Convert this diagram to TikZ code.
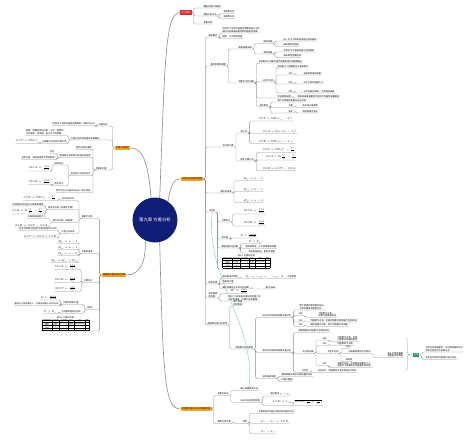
\RequirePackage{fix-cm}
\documentclass[tikz,border=0pt]{standalone}
\usepackage{amsmath}
\usepackage{fontspec}
\setmainfont{Noto Sans CJK SC}
\usetikzlibrary{arrows.meta,decorations.pathreplacing}

\definecolor{navy}{RGB}{16,30,120}
\definecolor{linkgray}{RGB}{140,140,140}
\definecolor{orangeA}{RGB}{246,162,36}
\definecolor{redA}{RGB}{222,45,45}
\definecolor{greenA}{RGB}{28,150,115}
\definecolor{tealA}{RGB}{120,200,185}

\newcommand{\sz}{\fontsize{2.2}{2.7}\selectfont}
\newcommand{\fz}{\fontsize{2.7}{3.2}\selectfont}
\newcommand{\rlink}[2]{\draw[link] (#1) -- ++(2pt,0) |- (#2.south west) -- (#2.south east);}
\newcommand{\llink}[2]{\draw[link] (#1) -- ++(-2pt,0) |- (#2.south east) -- (#2.south west);}
\newcommand{\anovatab}{{\setlength{\tabcolsep}{0.6pt}\setlength{\arrayrulewidth}{0.15pt}\renewcommand{\arraystretch}{0.85}%
\begin{tabular}{|c|c|c|c|c|c|}
\multicolumn{6}{c}{表9-1\ 方差分析表}\\\hline
误差来源&平方和&自由度&均方&F值&P值\\\hline
组间&SSA&$k-1$&MSA&MSA/MSE&\\\hline
组内&SSE&$n-k$&MSE&&\\\hline
总和&SST&$n-1$&&&\\\hline
\end{tabular}}}

\begin{document}
\begin{tikzpicture}[x=1pt,y=-1pt,
  link/.style={draw=linkgray,line width=0.3pt,rounded corners=1.5pt},
  branch/.style={draw=linkgray,line width=0.6pt},
  rt/.style={anchor=south west,inner sep=0.3pt,font=\sz,align=left},
  lt/.style={anchor=south east,inner sep=0.3pt,font=\sz,align=left},
  fm/.style={font=\fz}]
\tikzset{obox/.style={fill=orangeA,inner xsep=1.2pt,inner ysep=1.3pt,font=\sz},
  tag/.style={text=white,inner xsep=1.2pt,inner ysep=1.3pt,font=\sz},
  rel/.style={draw=tealA,line width=0.35pt,-{Stealth[length=1.6pt,width=1.4pt]}},
  summ/.style={draw=greenA!70,line width=0.35pt}}
\fill[white] (0,0) rectangle (474,445);
\useasboundingbox (0,0) rectangle (474,445);

\node[circle,fill=navy,minimum size=45pt,inner sep=0pt,text=white,font=\fontsize{4.4}{5}\selectfont] (core) at (155,220) {第九章 方差分析};

\node[tag,fill=redA] (goal) at (186,12.5) {学习目标};
\node[rt] (g1) at (203,8) {理解方差分析概念};
\node[rt] (g2) at (203,16) {掌握分析方法};
\node[rt] (g2a) at (223,13.5) {单因素分析};
\node[rt] (g2b) at (223,18.5) {双因素分析};
\node[rt] (g3) at (203,24) {多重比较};

\node[obox] (basic) at (192,179) {方差分析的基本原理};
\node[rt] (r1) at (208,37) {基本概念};
\node[rt] (r1a) at (222,33) {检验多个总体均值是否相等的统计方法\\通过分析数据误差判断均值是否相等};
\node[rt] (r1b) at (222,38.5) {因素、水平和观测值};
\node[rt] (r2) at (210,66) {基本思想和原理};
\node[rt] (r2a) at (238,49) {两类误差来源};
\node[rt] (r2a1) at (263,43.5) {随机误差};
\node[rt] (r2a1a) at (283,41) {同一水平下样本观测值之间的差异};
\node[rt] (r2a1b) at (283,46.5) {抽样随机性造成};
\node[rt] (r2a2) at (263,54) {系统误差};
\node[rt] (r2a2a) at (283,52) {不同水平下各观测值之间的差异};
\node[rt] (r2a2b) at (283,57.5) {由系统性因素造成};
\node[rt] (r2b) at (238,83) {误差平方和分解};
\node[rt] (r2b1) at (258,63) {总误差可以分解为组间误差和组内误差两部分};
\node[rt] (r2b2) at (262,82) {三种平方和};
\node[rt] (r2b2a) at (277,68) {各误差大小用离差平方和来表示};
\node[rt] (r2b2b) at (288,75) {SST};
\node[rt] (r2b2c) at (303,75) {全部观测值的误差};
\node[rt] (r2b2d) at (288,84) {SSA};
\node[rt] (r2b2e) at (303,84) {水平之间的误差大小};
\node[rt] (r2b2f) at (288,93) {SSE};
\node[rt] (r2b2g) at (303,93) {水平内部的误差，只含随机误差};
\node[rt] (r2b3) at (277,98) {比较两类误差};
\node[rt] (r2b3a) at (297,98) {若系统误差显著则不同水平均值有显著差异};
\node[rt] (r2b4) at (259,107) {基本假定};
\node[rt] (r2b4a) at (277,102) {每个总体都应该服从正态分布};
\node[rt] (r2b4b) at (288,107.5) {方差};
\node[rt] (r2b4c) at (302,107.5) {各总体方差相同};
\node[rt] (r2b4d) at (288,113) {独立};
\node[rt] (r2b4e) at (302,113) {观测值相互独立};
\node[rt] (r3) at (222,147) {平方和计算};
\node[rt] (r3a) at (240,133) {定义式};
\node[rt,fm] (r3a1) at (258,121) {$SST=\Sigma\Sigma(x_{ij}-\bar{x})^2$};
\node[rt,fm] (r3a2) at (262,133.5) {$SSA=\Sigma n_i(\bar{x}_i-\bar{x})^2$};
\node[rt,fm] (r3a3) at (258,143.5) {$SSE=\Sigma\Sigma(x_{ij}-\bar{x}_i)^2$};
\node[rt] (r3b) at (240,161) {简化计算公式};
\node[rt,fm] (r3b1) at (262,152.5) {$SST=\Sigma\Sigma x_{ij}^2-\frac{T^2}{n}$};
\node[rt,fm] (r3b2) at (265,160) {$SSA=\Sigma\frac{T_i^2}{n_i}-\frac{T^2}{n}$};
\node[rt,fm] (r3b3) at (262,170.5) {$SSE=SST-SSA$};
\node[rt] (r4) at (220,193) {相应自由度};
\node[rt,fm] (r4a) at (243,180.5) {$df_T=n-1$};
\node[rt,fm] (r4b) at (243,191.5) {$df_A=k-1$};
\node[rt,fm] (r4c) at (243,202.5) {$df_E=n-k$};
\node[rt] (r5) at (209,212) {F检验};
\node[rt] (r5a) at (221,222) {计算均方};
\node[rt,fm] (r5a1) at (243,214) {$MSA=\frac{SSA}{k-1}$};
\node[rt,fm] (r5a2) at (243,226) {$MSE=\frac{SSE}{n-k}$};
\node[rt] (r5b) at (221,239) {统计量};
\node[rt,fm] (r5b1) at (240,238) {$F=\frac{MSA}{MSE}$};
\node[rt] (r5c) at (221,248) {根据F值作出决策};
\node[rt,fm] (r5c1) at (248,243.5) {$F>F_\alpha$};
\node[rt] (r5c2) at (245,248.5) {拒绝原假设，认为因素影响显著};
\node[rt] (r5c3) at (248,253) {不拒绝原假设，影响不显著};
\node[rt,anchor=north west] (r5d) at (222,254.5) {\anovatab};
\node[rt] (r6) at (208,284) {检验步骤};
\node[rt] (r6a) at (222,278.5) {提出假设并检验};
\node[rt] (r6a1) at (245,278.5) {$H_0:\mu_1=\mu_2=\cdots=\mu_k$，$H_1$：不全相等};
\node[rt] (r6b) at (222,283.5) {构造统计量};
\node[rt] (r6c) at (222,289) {确定显著性水平并作出决策};
\node[rt] (r6c1) at (265,289) {查F分布表};
\node[rt] (r7) at (208,298) {关系强度\\的测量};
\node[rt,fm] (r7a) at (230,293.5) {$R^2=\frac{SSA}{SST}$};
\node[rt] (r7b) at (228,301) {R的大小反映自变量与因变量之间\\的关系强度，R²越大关系越强};
\node[rt] (r9) at (207,325) {双因素方差分析类型};
\node[rt] (r9a) at (233,306) {两个因素\\同时影响};
\node[rt] (r9b) at (235,349) {双因素分析的类型};
\node[rt] (r9b1) at (262,317.5) {无交互作用的双因素方差分析};
\node[rt] (r9b1a) at (299,310) {两个因素的影响相互独立，\\又称无重复双因素分析};
\node[rt] (r9b1b) at (298,315.5) {SSR};
\node[rt] (r9b1c) at (318,317.5) {行因素平方和，\\反映行因素的影响};
\node[rt] (r9b1d) at (298,322) {SSC};
\node[rt] (r9b1e) at (310,322) {列因素平方和，反映列因素对观测值产生的影响};
\node[rt] (r9b1f) at (298,326.5) {SSE};
\node[rt] (r9b1g) at (310,326.5) {随机误差平方和，除行列因素外的误差};
\node[rt] (r9b2) at (262,352.5) {有交互作用的双因素方差分析};
\node[rt] (r9b2a) at (298,332.5) {因素搭配会对结果产生新的效应};
\node[rt] (r9b2b) at (302,353.5) {平方和分解};
\node[rt] (r9b2c) at (322,340) {SSR};
\node[rt] (r9b2d) at (337,341.5) {行因素平方和，反映\\行因素对结果的影响};
\node[rt] (r9b2e) at (322,345.5) {SSC};
\node[rt] (r9b2f) at (337,345.5) {列因素的平方和};
\node[rt] (r9b2g) at (327,353.5) {交互平方和};
\node[rt] (r9b2h) at (345,348.5) {SSRC};
\node[rt] (r9b2i) at (348,353.5) {反映两因素的交互效应};
\node[rt] (r9b2j) at (387,357.5) {各水平组合需要\\有重复试验数据};
\node[rt] (r9b2k) at (345,361.5) {自由度};
\node[rt] (r9b2l) at (322,365.5) {SSE};
\node[rt] (r9b2m) at (337,367.5) {误差平方和，反映随机误差的大小，\\各组合下需要有多次重复的观测值};
\node[rt] (r9b2n) at (302,372.5) {F检验};
\node[rt] (r9b2o) at (317,372.5) {分别对行、列因素及交互作用进行F检验};
\node[rt] (r9b3) at (262,378.5) {关系强度测量};
\node[rt] (r9b3a) at (281,376.5) {两因素联合效应与因变量的关系};
\node[rt] (r9b3b) at (281,381.5) {R²越大越强};

\draw[summ,decorate,decoration={brace,amplitude=2.5pt}] (406,338) -- (406,371);
\coordinate (tip) at (408.5,354.5);
\node[tag,fill=greenA] (sum) at (416,355) {总结};
\node[rt] (s1) at (425,352) {当交互作用显著时，应对各因素的水平\\组合分别进行比较和分析};
\node[rt] (s2) at (425,359.5) {无交互作用时可直接比较主效应};

\node[obox] (multi) at (196,409) {单因素方差分析中的多重比较};
\node[rt] (b1) at (217,395.5) {多重比较法};
\node[rt] (b1a) at (240,390.5) {最小显著差异方法};
\node[rt] (b1b) at (240,402.5) {LSD方法的检验步骤};
\node[rt] (b1c) at (270,396) {提出假设 $\mu_i=\mu_j$};
\node[rt,fm] (b1d) at (272,405.5) {$LSD=t_{\alpha/2}\sqrt{MSE(\frac{1}{n_i}+\frac{1}{n_j})}$};
\node[rt] (b2) at (217,423.5) {两两比较步骤};
\node[rt] (b2a) at (242,423.5) {计算};
\node[rt] (b2a1) at (258,413.5) {计算各样本均值之差的绝对值并比较};
\node[rt,fm] (b2a2) at (260,423.5) {$|\bar{x}_i-\bar{x}_j|>LSD$};
\node[rt,fm] (b2a3) at (260,433.5) {$|\bar{x}_i-\bar{x}_j|$};

\node[obox] (concept) at (122.5,148) {方差分析概念};
\node[lt] (u1) at (108,126) {方差分析};
\node[lt] (u1a) at (95,125.5) {检验多个总体均值是否相等的一种统计方法};
\node[lt] (u2) at (100,140) {方差分析涉及的基本术语概念};
\node[lt] (u2a) at (64,135.5) {因素：所要检验的对象；水平：因素的\\不同表现；观测值：各水平下的数据};
\node[lt] (u2b) at (67,143.5) {总离差平方和的计算公式};
\node[lt,fm] (u2c) at (39,143.5) {$SST=\Sigma\Sigma x_{ij}^2$};
\node[lt] (u3) at (107,170) {主要统计量};
\node[lt] (u3a) at (92,149.5) {组间与组内误差};
\node[lt] (u3b) at (91,157.5) {各误差平方和除以各自的自由度};
\node[lt] (u3b1) at (55,153.5) {均方};
\node[lt] (u3b2) at (55,159.5) {也称方差，消除观测值个数的影响};
\node[lt] (u3c) at (91,175.5) {组间均方与组内均方};
\node[lt] (u3c1) at (64,165) {组间均方};
\node[lt,fm] (u3c2) at (51,171) {$MSA=\frac{SSA}{k-1}$};
\node[lt] (u3c3) at (64,185.5) {组内均方};
\node[lt,fm] (u3c4) at (51,184.5) {$MSE=\frac{SSE}{n-k}$};
\node[lt] (u3d) at (91,192.5) {两个均方之比服从F分布，用于检验};

\node[obox] (steps) at (114,275) {单因素方差分析的步骤};
\node[lt] (l1) at (93,218.5) {离差平方和};
\node[lt] (l1a) at (75,200.5) {总平方和SST};
\node[lt,fm] (l1a1) at (57,200.5) {$SST=\Sigma\Sigma x_{ij}^2-\frac{T^2}{n}$};
\node[lt] (l1b) at (75,209.5) {组间平方和（因素平方和）};
\node[lt] (l1b1) at (44,206) {反映各样本均值之间的差异程度};
\node[lt,fm] (l1b2) at (44,214) {$SSA=\Sigma\frac{T_i^2}{n_i}-\frac{T^2}{n}$};
\node[lt] (l1c) at (75,222.5) {组内平方和（误差项）};
\node[lt] (l1c1) at (46,218.5) {反映随机误差大小};
\node[lt,fm] (l1c2) at (48,227) {$SSE=SST-SSA$};
\node[lt] (l1d) at (75,233.5) {三者之间关系};
\node[lt] (l1d1) at (57,230.5) {总平方和等于组间平方和加组内平方和};
\node[lt,fm] (l1d2) at (57,238) {$SST=SSA+SSE$};
\node[lt] (l2) at (93,253.5) {计算自由度};
\node[lt,fm] (l2a) at (78,243.5) {$df_T=n-1$};
\node[lt,fm] (l2b) at (78,249.5) {$df_A=k-1$};
\node[lt,fm] (l2c) at (78,255.5) {$df_E=n-k$};
\node[lt,fm] (l2d) at (78,262.5) {$df_T=df_A+df_E$};
\node[lt] (l3) at (93,282.5) {计算均方};
\node[lt,fm] (l3a) at (77,269.5) {$MSA=\frac{SSA}{df_A}$};
\node[lt,fm] (l3b) at (77,282.5) {$MSE=\frac{SSE}{df_E}$};
\node[lt,fm] (l3c) at (77,291.5) {$MST=\frac{SST}{df_T}$};
\node[lt] (l4) at (93,309.5) {F检验};
\node[lt] (l4a) at (79,304.5) {计算检验统计量};
\node[lt,fm] (l4a1) at (58,300) {$F=\frac{MSA}{MSE}$};
\node[lt] (l4a2) at (59,305.5) {服从分子自由度k−1、分母自由度n−k的F分布};
\node[lt] (l4b) at (81,313.5) {与F临界值进行比较};
\node[lt,fm] (l4b1) at (57,313.5) {$F>F_\alpha$};
\node[lt,anchor=north east] (l5) at (90,316.5) {\anovatab};

\draw[branch] (core.78) .. controls (165,60) and (165,12.5) .. (goal.west);
\draw[branch] (core.55) .. controls (171,185) and (173,179) .. (basic.west);
\draw[branch] (core.100) .. controls (148,160) and (142,148) .. (concept.east);
\draw[branch] (core.245) .. controls (146,262) and (140,275) .. (steps.east);
\draw[branch] (core.282) .. controls (163,380) and (165,409) .. (multi.west);

\rlink{goal.east}{g1} \rlink{goal.east}{g2} \rlink{goal.east}{g3}
\rlink{g2.south east}{g2a} \rlink{g2.south east}{g2b}

\rlink{basic.east}{r1} \rlink{basic.east}{r2} \rlink{basic.east}{r3}
\rlink{basic.east}{r4} \rlink{basic.east}{r5} \rlink{basic.east}{r6}
\rlink{basic.east}{r7} \rlink{basic.east}{r9}
\rlink{r1.south east}{r1a} \rlink{r1.south east}{r1b}
\rlink{r2.south east}{r2a} \rlink{r2.south east}{r2b}
\rlink{r2a.south east}{r2a1} \rlink{r2a.south east}{r2a2}
\rlink{r2a1.south east}{r2a1a} \rlink{r2a1.south east}{r2a1b}
\rlink{r2a2.south east}{r2a2a} \rlink{r2a2.south east}{r2a2b}
\rlink{r2b.south east}{r2b1} \rlink{r2b.south east}{r2b2}
\rlink{r2b.south east}{r2b3} \rlink{r2b.south east}{r2b4}
\rlink{r2b2.south east}{r2b2a} \rlink{r2b2.south east}{r2b2b}
\rlink{r2b2.south east}{r2b2d} \rlink{r2b2.south east}{r2b2f}
\rlink{r2b2b.south east}{r2b2c} \rlink{r2b2d.south east}{r2b2e}
\rlink{r2b2f.south east}{r2b2g} \rlink{r2b3.south east}{r2b3a}
\rlink{r2b4.south east}{r2b4a} \rlink{r2b4.south east}{r2b4b}
\rlink{r2b4.south east}{r2b4d}
\rlink{r2b4b.south east}{r2b4c} \rlink{r2b4d.south east}{r2b4e}
\rlink{r3.south east}{r3a} \rlink{r3.south east}{r3b}
\rlink{r3a.south east}{r3a1} \rlink{r3a.south east}{r3a2} \rlink{r3a.south east}{r3a3}
\rlink{r3b.south east}{r3b1} \rlink{r3b.south east}{r3b2} \rlink{r3b.south east}{r3b3}
\rlink{r4.south east}{r4a} \rlink{r4.south east}{r4b} \rlink{r4.south east}{r4c}
\rlink{r5.south east}{r5a} \rlink{r5.south east}{r5b}
\rlink{r5.south east}{r5c} \rlink{r5.south east}{r5d}
\rlink{r5a.south east}{r5a1} \rlink{r5a.south east}{r5a2}
\rlink{r5b.south east}{r5b1}
\rlink{r5c.south east}{r5c1} \rlink{r5c.south east}{r5c2} \rlink{r5c.south east}{r5c3}
\rlink{r6.south east}{r6a} \rlink{r6.south east}{r6b} \rlink{r6.south east}{r6c}
\rlink{r6a.south east}{r6a1} \rlink{r6c.south east}{r6c1}
\rlink{r7.south east}{r7a} \rlink{r7.south east}{r7b}
\rlink{r9.south east}{r9a} \rlink{r9.south east}{r9b}
\rlink{r9b.south east}{r9b1} \rlink{r9b.south east}{r9b2} \rlink{r9b.south east}{r9b3}
\rlink{r9b1.south east}{r9b1a} \rlink{r9b1.south east}{r9b1b}
\rlink{r9b1.south east}{r9b1d} \rlink{r9b1.south east}{r9b1f}
\rlink{r9b1b.south east}{r9b1c} \rlink{r9b1d.south east}{r9b1e}
\rlink{r9b1f.south east}{r9b1g}
\rlink{r9b2.south east}{r9b2a} \rlink{r9b2.south east}{r9b2b} \rlink{r9b2.south east}{r9b2n}
\rlink{r9b2b.south east}{r9b2c} \rlink{r9b2b.south east}{r9b2e}
\rlink{r9b2b.south east}{r9b2g} \rlink{r9b2b.south east}{r9b2l}
\rlink{r9b2c.south east}{r9b2d} \rlink{r9b2e.south east}{r9b2f}
\rlink{r9b2g.south east}{r9b2h} \rlink{r9b2g.south east}{r9b2i} \rlink{r9b2g.south east}{r9b2k}
\rlink{r9b2i.south east}{r9b2j} \rlink{r9b2l.south east}{r9b2m}
\rlink{r9b2n.south east}{r9b2o}
\rlink{r9b3.south east}{r9b3a} \rlink{r9b3.south east}{r9b3b}

\draw[summ] (tip) -- (sum.west);
\rlink{sum.east}{s1} \rlink{sum.east}{s2}

\rlink{multi.east}{b1} \rlink{multi.east}{b2}
\rlink{b1.south east}{b1a} \rlink{b1.south east}{b1b}
\rlink{b1b.south east}{b1c} \rlink{b1b.south east}{b1d}
\rlink{b2.south east}{b2a}
\rlink{b2a.south east}{b2a1} \rlink{b2a.south east}{b2a2} \rlink{b2a.south east}{b2a3}

\draw[rel] (r5.south) .. controls (205,280) and (255,320) .. (b1a.north);

\llink{concept.west}{u1} \llink{concept.west}{u2} \llink{concept.west}{u3}
\llink{u1.south west}{u1a}
\llink{u2.south west}{u2a} \llink{u2.south west}{u2b}
\llink{u2b.south west}{u2c}
\llink{u3.south west}{u3a} \llink{u3.south west}{u3b}
\llink{u3.south west}{u3c} \llink{u3.south west}{u3d}
\llink{u3b.south west}{u3b1} \llink{u3b.south west}{u3b2}
\llink{u3c.south west}{u3c1} \llink{u3c.south west}{u3c3}
\llink{u3c1.south west}{u3c2} \llink{u3c3.south west}{u3c4}

\llink{steps.west}{l1} \llink{steps.west}{l2} \llink{steps.west}{l3}
\llink{steps.west}{l4} \llink{steps.west}{l5}
\llink{l1.south west}{l1a} \llink{l1.south west}{l1b}
\llink{l1.south west}{l1c} \llink{l1.south west}{l1d}
\llink{l1a.south west}{l1a1}
\llink{l1b.south west}{l1b1} \llink{l1b.south west}{l1b2}
\llink{l1c.south west}{l1c1} \llink{l1c.south west}{l1c2}
\llink{l1d.south west}{l1d1} \llink{l1d.south west}{l1d2}
\llink{l2.south west}{l2a} \llink{l2.south west}{l2b}
\llink{l2.south west}{l2c} \llink{l2.south west}{l2d}
\llink{l3.south west}{l3a} \llink{l3.south west}{l3b} \llink{l3.south west}{l3c}
\llink{l4.south west}{l4a} \llink{l4.south west}{l4b}
\llink{l4a.south west}{l4a1} \llink{l4a.south west}{l4a2}
\llink{l4b.south west}{l4b1}
\end{tikzpicture}
\end{document}
